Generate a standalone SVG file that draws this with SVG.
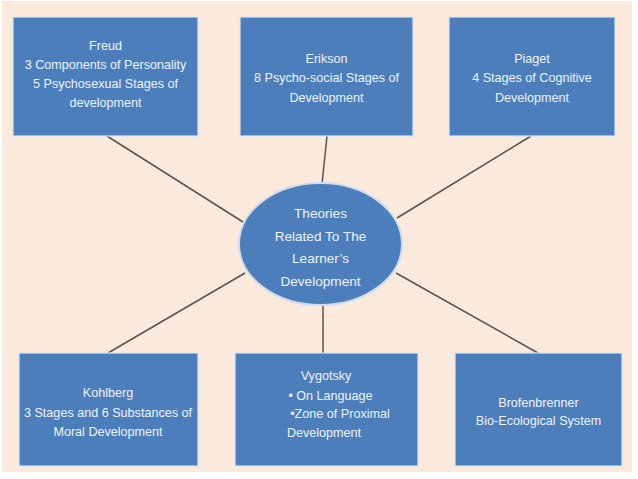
<svg xmlns="http://www.w3.org/2000/svg" width="638" height="479" viewBox="0 0 638 479">
<style>
.box{fill:#4b7ebb;stroke:#d9e4f1;stroke-width:1.2}
.t{font-family:"Liberation Sans",Arial,sans-serif;font-size:12.6px;fill:#eef3fa;text-anchor:middle}
.c{font-family:"Liberation Sans",Arial,sans-serif;font-size:13.6px;fill:#eef3fa;text-anchor:middle}
.ln{stroke:#555;stroke-width:1.5;fill:none}
</style>
<rect x="0" y="0" width="638" height="479" fill="#ffffff"/>
<rect x="2" y="1" width="630" height="471" fill="#fbe9dc"/>
<g id="connectors">
<line class="ln" x1="107" y1="136" x2="243" y2="222"/>
<line class="ln" x1="327" y1="136" x2="322" y2="184"/>
<line class="ln" x1="531" y1="136" x2="397" y2="218"/>
<line class="ln" x1="245" y1="273" x2="108" y2="353"/>
<line class="ln" x1="323" y1="305" x2="323" y2="353"/>
<line class="ln" x1="396" y1="273" x2="538" y2="353"/>
</g>
<g id="freud">
<rect class="box" x="13" y="17" width="185" height="119"/>
<text class="t" x="105.5" y="50">Freud</text>
<text class="t" x="105.5" y="69">3 Components of Personality</text>
<text class="t" x="105.5" y="88">5 Psychosexual Stages of</text>
<text class="t" x="105.5" y="107">development</text>
</g>
<g id="erikson">
<rect class="box" x="240" y="17" width="173" height="119"/>
<text class="t" x="326.5" y="63">Erikson</text>
<text class="t" x="326.5" y="82">8 Psycho-social Stages of</text>
<text class="t" x="326.5" y="102">Development</text>
</g>
<g id="piaget">
<rect class="box" x="449" y="17" width="166" height="119"/>
<text class="t" x="532" y="63">Piaget</text>
<text class="t" x="532" y="82">4 Stages of Cognitive</text>
<text class="t" x="532" y="102">Development</text>
</g>
<g id="center">
<ellipse cx="320.5" cy="244" rx="81.5" ry="61" fill="#4b7ebb" stroke="#cfdcec" stroke-width="2"/>
<text class="c" x="320.5" y="218">Theories</text>
<text class="c" x="320.5" y="241">Related To The</text>
<text class="c" x="320.5" y="263">Learner’s</text>
<text class="c" x="320.5" y="286">Development</text>
</g>
<g id="kohlberg">
<rect class="box" x="19" y="353" width="179" height="113"/>
<text class="t" x="108" y="397">Kohlberg</text>
<text class="t" x="108" y="417">3 Stages and 6 Substances of</text>
<text class="t" x="108" y="436">Moral Development</text>
</g>
<g id="vygotsky">
<rect class="box" x="235" y="353" width="183" height="113"/>
<text class="t" x="326" y="380">Vygotsky</text>
<text class="t" x="330.5" y="400">• On Language</text>
<text class="t" x="340" y="418">•Zone of Proximal</text>
<text class="t" x="324" y="437">Development</text>
</g>
<g id="brofenbrenner">
<rect class="box" x="455" y="353" width="167" height="113"/>
<text class="t" x="538.5" y="407">Brofenbrenner</text>
<text class="t" x="538.5" y="425">Bio-Ecological System</text>
</g>
</svg>
